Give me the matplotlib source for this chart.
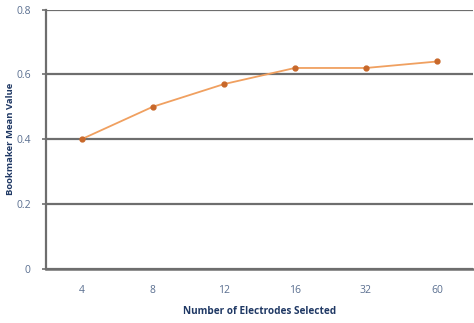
import matplotlib.pyplot as plt

electrodes = ["4", "8", "12", "16", "32", "60"]
bookmaker = [0.40, 0.50, 0.57, 0.62, 0.62, 0.64]
y_ticks = [0, 0.2, 0.4, 0.6, 0.8]
y_tick_labels = ["0", "0.2", "0.4", "0.6", "0.8"]

plt.rcParams["font.family"] = ["Open Sans", "DejaVu Sans"]

fig = plt.figure(figsize=(4.74, 3.23), dpi=100)
ax = fig.add_axes([0.097, 0.168, 0.9, 0.802])

x = range(len(electrodes))
ax.plot(x, bookmaker, color="#f0a060", lw=1.3, zorder=3)
ax.plot(x, bookmaker, ls="none", marker="o", ms=3.5, color="#c8682a", zorder=4)

ax.set_xlim(-0.5, len(electrodes) - 0.5)
ax.set_ylim(0, 0.8)
ax.set_xticks(list(x))
ax.set_xticklabels(electrodes)
ax.set_yticks(y_ticks)
ax.set_yticklabels(y_tick_labels)

ax.grid(axis="y", color="#6e6e6e", lw=1.6, zorder=1)
ax.grid(axis="x", visible=False)
for side in ["top", "right"]:
    ax.spines[side].set_visible(False)
ax.spines["left"].set_color("#6e6e6e")
ax.spines["left"].set_linewidth(1.6)
ax.spines["bottom"].set_color("#6e6e6e")
ax.spines["bottom"].set_linewidth(1.8)

ax.tick_params(axis="x", length=0, pad=12, labelsize=7.5, labelcolor="#5a6f90")
ax.tick_params(axis="y", length=3, width=1.2, color="#6e6e6e", pad=8,
               labelsize=7.5, labelcolor="#5a6f90")

ax.set_xlabel("Number of Electrodes Selected", fontsize=7.2, color="#1f3864",
              fontweight="bold", labelpad=7)
ax.set_ylabel("Bookmaker Mean Value", fontsize=6.8, color="#1f3864",
              fontweight="bold")
ax.yaxis.set_label_coords(-0.072, 0.5)

fig.savefig("out.png", dpi=100)
